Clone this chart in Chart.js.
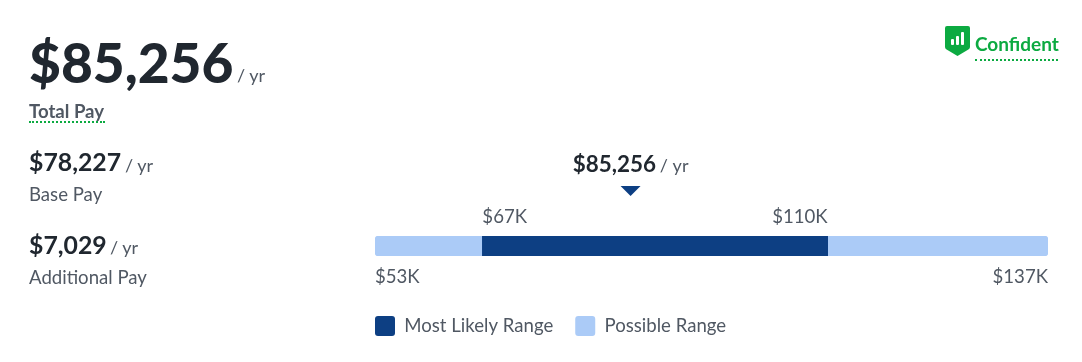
<!DOCTYPE html>
<html><head><meta charset="utf-8">
<script src="https://cdn.jsdelivr.net/npm/chart.js@4"></script>
<style>
html,body{margin:0;padding:0;background:#fff;overflow:hidden}
body{width:1082px;height:362px;position:relative;font-family:Lato,sans-serif;color:#505863}
#c{position:absolute;left:0;top:0}
.t{position:absolute;white-space:nowrap;line-height:1}
.big{font-size:55px;font-weight:900;color:#20272f}
.mid{font-size:24.8px;font-weight:700;color:#20272f}
.s{font-size:18.6px;color:#505863}
.u{font-size:18px;color:#505863}
.dot{position:absolute;height:0;border-top:2px dotted #0caa41}
</style></head><body>
<canvas id="c" width="1082" height="362"></canvas>
<div class="t big" id="total" style="left:29px;top:35px"></div>
<div class="t u" style="left:237px;top:66px">/ yr</div>
<div class="t s" style="left:29px;top:102px;font-weight:700" id="totalLabel"></div>
<div class="dot" style="left:29px;top:121px;width:76px"></div>
<div class="t mid" id="base" style="left:29px;top:150px"></div>
<div class="t u" id="baseUnit" style="left:125px;top:156px">/ yr</div>
<div class="t s" id="baseLabel" style="left:29px;top:185px"></div>
<div class="t mid" id="add" style="left:29px;top:233px"></div>
<div class="t u" id="addUnit" style="left:110px;top:238px">/ yr</div>
<div class="t s" id="addLabel" style="left:29px;top:268px"></div>
<svg style="position:absolute;left:945px;top:26px" width="25" height="30" viewBox="0 0 25 30">
<path d="M2 0H23a2 2 0 0 1 2 2V21a3 3 0 0 1-1.6 2.6L12.5 30 1.6 23.6A3 3 0 0 1 0 21V2a2 2 0 0 1 2-2Z" fill="#0caa41"/>
<rect x="6" y="13" width="3" height="6" rx="1" fill="#fff"/><rect x="11" y="10" width="3" height="9" rx="1" fill="#fff"/><rect x="16" y="6" width="3" height="13" rx="1" fill="#fff"/>
</svg>
<div class="t" id="conf" style="left:975px;top:34px;font-size:19px;font-weight:700;color:#0caa41"></div>
<div class="dot" style="left:975px;top:59px;width:83px"></div>
<script>
const totalPay = "$85,256", totalLabel = "Total Pay";
const basePay = "$78,227", baseLabel = "Base Pay";
const addPay = "$7,029", addLabel = "Additional Pay";
const confidence = "Confident", unit = "/ yr";
const categories = ["Total Pay"];
const seriesNames = ["Most Likely Range", "Possible Range"];
const likelyRange = [66.4, 109.5];
const possibleRange = [53, 137];
const markerValue = [84.9];
const markerLabel = "$85,256";
const topTicks = [66.4, 109.5];
const topTickLabels = ["$67K", "$110K"];
const bottomTicks = [53, 137];
const bottomTickLabels = ["$53K", "$137K"];
const DARK = "#0d3f83", LIGHT = "#abcbf7", GREY = "#505863", INK = "#20272f";

const set = (id, v) => document.getElementById(id).textContent = v;
set("total", totalPay); set("totalLabel", totalLabel);
set("base", basePay); set("baseLabel", baseLabel);
set("add", addPay); set("addLabel", addLabel); set("conf", confidence);

const markerPlugin = {
  id: "marker",
  afterDatasetsDraw(chart) {
    const g = chart.ctx, x = chart.scales.x.getPixelForValue(markerValue[0]);
    g.save();
    g.fillStyle = DARK;
    g.beginPath(); g.moveTo(x - 10, 186); g.lineTo(x + 10, 186); g.lineTo(x, 196); g.closePath(); g.fill();
    g.textBaseline = "alphabetic"; g.textAlign = "left";
    g.font = "700 22.4px Lato"; const w1 = g.measureText(markerLabel).width;
    g.font = "18px Lato"; const w2 = g.measureText(unit).width;
    const left = x - (w1 + 4 + w2) / 2;
    g.font = "700 22.4px Lato"; g.fillStyle = INK; g.fillText(markerLabel, left, 172);
    g.font = "18px Lato"; g.fillStyle = GREY; g.fillText(unit, left + w1 + 4, 172);
    g.restore();
  }
};

const axisBase = (ticks, labels, position, h, pad) => ({
  type: "linear", position, min: possibleRange[0], max: possibleRange[1],
  grid: { display: false, drawTicks: false }, border: { display: false },
  afterBuildTicks(s) { s.ticks = ticks.map(v => ({ value: v })); },
  afterFit(s) { s.height = h; },
  ticks: {
    autoSkip: false, maxRotation: 0, align: "inner", padding: pad,
    color: GREY, font: { family: "Lato", size: 18.6 },
    callback: v => labels[ticks.indexOf(v)]
  }
});

new Chart(document.getElementById("c"), {
  type: "bar",
  data: {
    labels: categories,
    datasets: [
      { label: seriesNames[0], data: [likelyRange], backgroundColor: DARK, order: 0, borderRadius: 0, borderSkipped: false },
      { label: seriesNames[1], data: [possibleRange], backgroundColor: LIGHT, order: 1, borderRadius: 4, borderSkipped: false }
    ]
  },
  plugins: [markerPlugin],
  options: {
    indexAxis: "y", responsive: false, animation: false, events: [],
    layout: { padding: { left: 353, right: 34, top: 0, bottom: 16 } },
    datasets: { bar: { grouped: false, barPercentage: 1, categoryPercentage: 1 } },
    scales: {
      x: axisBase(bottomTicks, bottomTickLabels, "bottom", 38, 10),
      xTop: axisBase(topTicks, topTickLabels, "top", 236, 8),
      y: { display: true, grid: { display: false, drawTicks: false }, border: { display: false },
           ticks: { display: false }, afterFit(s) { s.width = 22; } }
    },
    plugins: {
      tooltip: { enabled: false },
      legend: {
        position: "bottom", align: "start",
        labels: { boxWidth: 20, boxHeight: 20, padding: 22, useBorderRadius: true, borderRadius: 3,
                  color: GREY, font: { family: "Lato", size: 18.6 } }
      }
    }
  }
});
</script>
</body></html>
